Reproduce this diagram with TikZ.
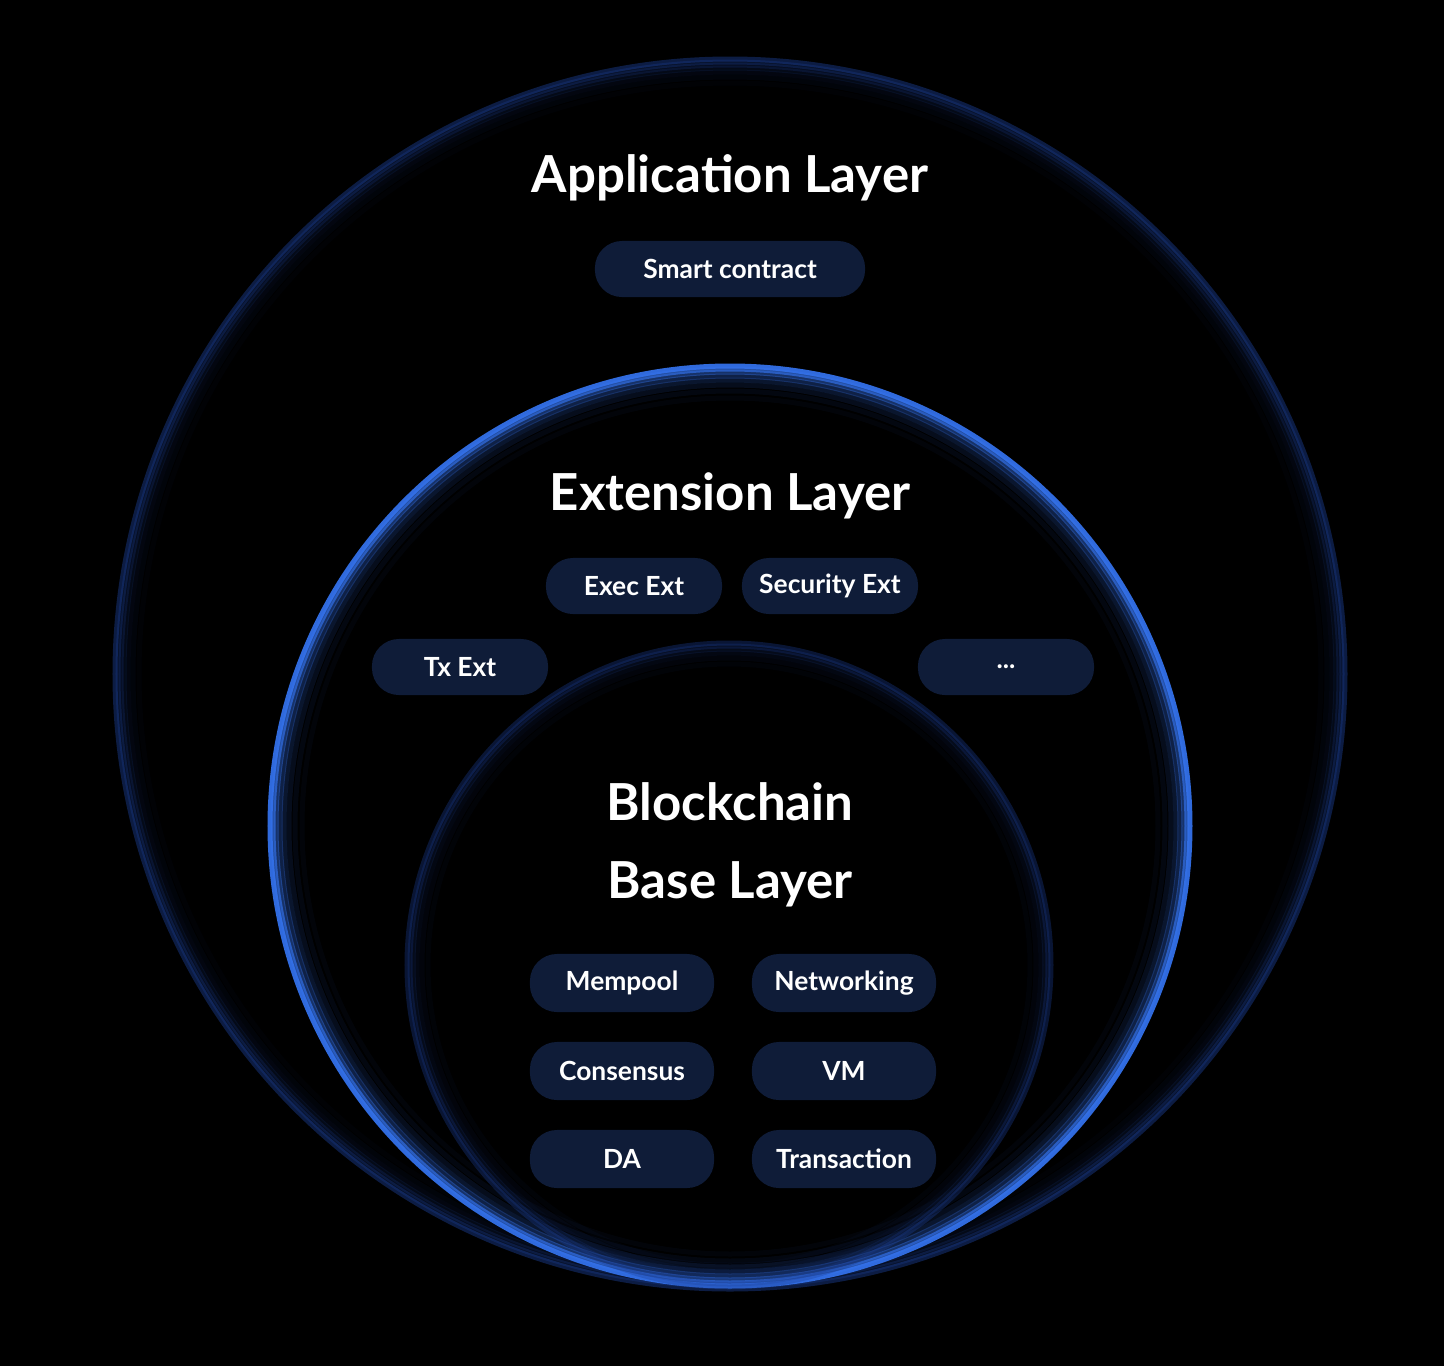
\documentclass[tikz,border=0pt]{standalone}
\usepackage{fontspec}
\setmainfont{Lato}
\definecolor{pillc}{HTML}{0F1C38}
\definecolor{glowb}{HTML}{3370E8}
\definecolor{dimb}{HTML}{1C3F95}
\begin{document}
\begin{tikzpicture}[x=0.01cm,y=-0.01cm,
  pill/.style={draw=none,fill=pillc,rounded corners=0.27cm,minimum height=0.56cm,font=\bfseries\fontsize{7.5pt}{8pt}\selectfont,text=white},
  ttl/.style={font=\bfseries\fontsize{14.5pt}{16pt}\selectfont,text=white}]
\fill[black] (0,0) rectangle (1444,1366);
% outer
\foreach \d/\o in {0/0.45,3/0.3,6/0.22,9/0.16,13/0.11,18/0.07,24/0.04}{
 \draw[dimb,line width=5*0.2845pt,opacity=\o] (730,674) circle ({(615-\d)*0.01cm});}
% middle
\foreach \d/\o in {0/0.95,3/0.7,6/0.45,10/0.3,14/0.2,19/0.12,25/0.07,32/0.04}{
 \draw[glowb,line width=5*0.2845pt,opacity=\o] (730,826) circle ({(460-\d)*0.01cm});}
% inner
\foreach \d/\o in {0/0.35,3/0.25,6/0.18,10/0.12,15/0.08,21/0.05}{
 \draw[dimb,line width=5*0.2845pt,opacity=\o] (729,965) circle ({(322-\d)*0.01cm});}
\node[ttl] (app) at (730,178) {Application Layer};
\node[ttl] (ext) at (730,496) {Extension Layer};
\node[ttl] (bc) at (730,802) {Blockchain};
\node[ttl] (base) at (730,884) {Base Layer};
\node[pill,minimum width=2.7cm] (sc) at (730,269) {Smart contract};
\node[pill,minimum width=1.76cm] (exec) at (634,586) {Exec Ext};
\node[pill,minimum width=1.76cm] (sec) at (830,586) {Security Ext};
\node[pill,minimum width=1.76cm] (tx) at (460,667) {Tx Ext};
\node[pill,minimum width=1.76cm] (dots) at (1006,667) {...};
\node[pill,minimum width=1.84cm,minimum height=0.58cm] (mem) at (622,983) {Mempool};
\node[pill,minimum width=1.84cm,minimum height=0.58cm] (net) at (844,983) {Networking};
\node[pill,minimum width=1.84cm,minimum height=0.58cm] (con) at (622,1071) {Consensus};
\node[pill,minimum width=1.84cm,minimum height=0.58cm] (vm) at (844,1071) {VM};
\node[pill,minimum width=1.84cm,minimum height=0.58cm] (da) at (622,1159) {DA};
\node[pill,minimum width=1.84cm,minimum height=0.58cm] (trx) at (844,1159) {Transaction};
\useasboundingbox (0,0) rectangle (1444,1366);
\end{tikzpicture}
\end{document}
